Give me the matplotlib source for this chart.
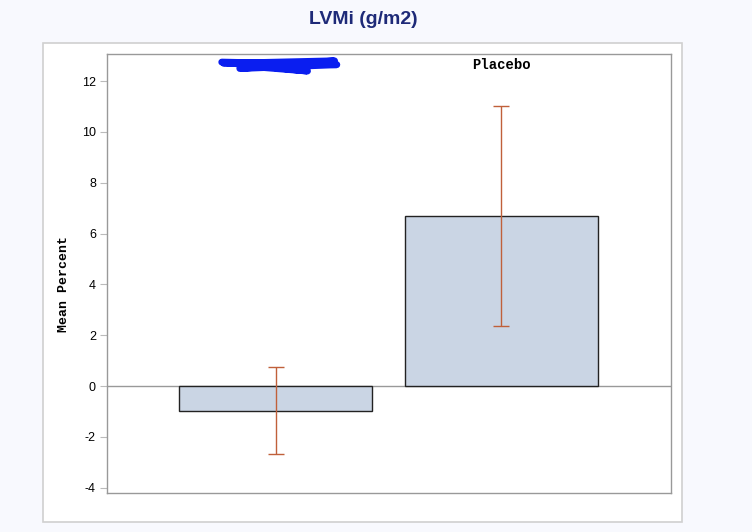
import matplotlib.pyplot as plt
from matplotlib.patches import Rectangle

plt.rcParams['axes.unicode_minus'] = False

# values
groups = ['', 'Placebo']          # first label is scribbled out in the reference
means = [-0.97, 6.70]
err_low = [-2.68, 2.37]
err_high = [0.75, 11.03]
yticks = [-4, -2, 0, 2, 4, 6, 8, 10, 12]

W, H = 752, 532
fig = plt.figure(figsize=(W / 100, H / 100), dpi=100)
fig.patch.set_facecolor('#f8f9fe')

# white panel behind the plot
fig.patches.append(Rectangle((43 / W, 1 - 522 / H), (682 - 43) / W, (522 - 43) / H,
                             transform=fig.transFigure, facecolor='white',
                             edgecolor='#d0d0d0', linewidth=1.2, zorder=0))

ax = fig.add_axes([107 / W, 1 - 493 / H, (671 - 107) / W, (493 - 54) / H])
ax.set_zorder(2)
ax.set_facecolor('white')

x = list(range(len(groups)))
ax.bar(x, means, width=0.856, color='#cad5e4', edgecolor='#222222', linewidth=1.0, zorder=2)
lo = [m - l for m, l in zip(means, err_low)]
hi = [h - m for m, h in zip(means, err_high)]
ax.errorbar(x, means, yerr=[lo, hi], fmt='none', ecolor='#c0603a', elinewidth=1.0,
            capsize=5.5, capthick=1.0, zorder=3)
ax.axhline(0, color='#999999', linewidth=1.0, zorder=1)

ax.set_xlim(-0.749, 1.752)
ax.set_ylim(-4.21, 13.07)
ax.set_yticks(yticks)
ax.set_xticks([])
ax.tick_params(axis='y', direction='out', length=5, color='#bbbbbb', labelsize=9,
               pad=3, labelcolor='black')
for lab in ax.get_yticklabels():
    lab.set_family(['Liberation Sans', 'DejaVu Sans'])
for s in ax.spines.values():
    s.set_color('#999999')
    s.set_linewidth(1.0)

# category labels along the top
for xi, g in zip(x, groups):
    ax.text(xi, 12.65, g, ha='center', va='center', fontsize=10, fontweight='bold',
            family=['Liberation Mono', 'DejaVu Sans Mono'])

# blue scribble over the first label
sx = [-0.23, 0.26, -0.16, 0.27, -0.24, 0.14, -0.14]
sy = [12.7, 12.8, 12.5, 12.65, 12.75, 12.4, 12.6]
ax.plot(sx, sy, color='#0a1ef0', linewidth=5, solid_capstyle='round', zorder=5)

ax.set_ylabel('Mean Percent', fontsize=9.5, fontweight='bold',
              family=['Liberation Mono', 'DejaVu Sans Mono'])
ax.yaxis.set_label_coords(-0.066, 0.477)

fig.text(363 / W, 1 - 20 / H, 'LVMi (g/m2)', ha='center', va='center', fontsize=14,
         fontweight='bold', color='#1e2a78', family=['Liberation Sans', 'DejaVu Sans'])

fig.savefig('out.png', dpi=100, facecolor=fig.get_facecolor())
